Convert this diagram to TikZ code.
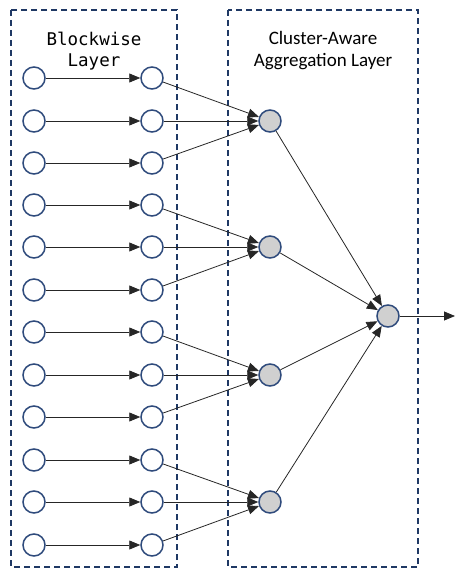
\documentclass[tikz,border=0pt]{standalone}
\usepackage{fontspec}
\newfontfamily\monof{DejaVu Sans Mono}
\newfontfamily\calib{Carlito}
\usetikzlibrary{arrows.meta}
\definecolor{navy}{HTML}{1F3864}
\definecolor{circ}{HTML}{2F4B7C}
\definecolor{agg}{HTML}{D0D0D0}
\begin{document}
\begin{tikzpicture}[x=1pt,y=-1pt,
  neuron/.style={circle,draw=circ,line width=1.5pt,minimum size=22pt,inner sep=0pt,fill=white},
  aggn/.style={neuron,fill=agg},
  conn/.style={draw=black!85,line width=0.8pt,-{Triangle[length=11pt,width=9pt]}},
  layerbox/.style={draw=navy,line width=1.2pt,dash pattern=on 6pt off 4pt}]
\useasboundingbox (0,0) rectangle (474,575);
\draw[layerbox] (11,10) rectangle (177,567);
\draw[layerbox] (228,10) rectangle (418,567);
\node[font=\monof\fontsize{17.5}{21}\selectfont,align=center] (t1) at (94,51) {Blockwise\\Layer};
\node[font=\calib\fontsize{19}{22}\selectfont,align=center] (t2) at (323,51) {Cluster-Aware\\Aggregation Layer};
\foreach \i/\y in {1/78,2/121,3/163,4/205,5/247,6/290,7/332,8/375,9/417,10/460,11/502,12/545}{
  \node[neuron] (a\i) at (34,\y) {};
  \node[neuron] (b\i) at (152,\y) {};
  \draw[conn] (a\i) -- (b\i);
}
\foreach \j/\y in {1/121,2/247,3/375,4/502}{
  \node[aggn] (c\j) at (270,\y) {};
}
\node[aggn] (d) at (388,316) {};
\coordinate (out) at (455,316);
\foreach \j in {1,2,3,4}{
  \pgfmathtruncatemacro{\k}{3*\j-2}
  \pgfmathtruncatemacro{\l}{3*\j-1}
  \pgfmathtruncatemacro{\m}{3*\j}
  \draw[conn] (b\k) -- (c\j);
  \draw[conn] (b\l) -- (c\j);
  \draw[conn] (b\m) -- (c\j);
  \draw[conn] (c\j) -- (d);
}
\draw[conn] (d) -- (out);
\end{tikzpicture}
\end{document}
